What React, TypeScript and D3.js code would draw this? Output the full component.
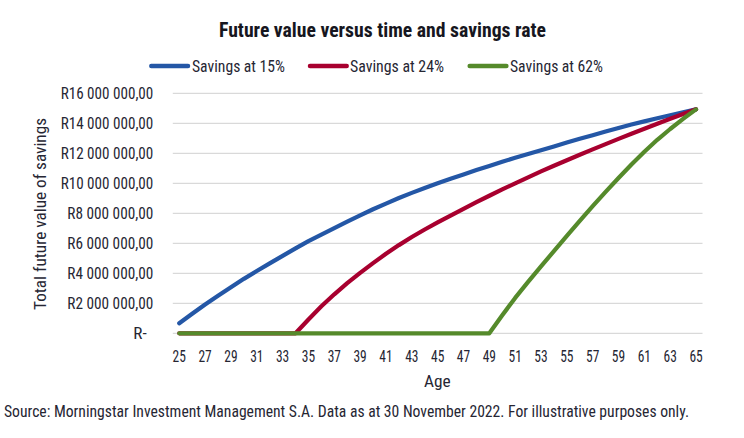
import React from 'react';
import * as d3 from 'd3';

// ages on the x axis (every year, labels every 2nd)
const ages = d3.range(25, 66);

// total future value of savings, R millions
const savings15 = [
  0.67, 1.3, 1.92, 2.5, 3.07, 3.63, 4.15, 4.66, 5.16, 5.66,
  6.15, 6.58, 7.01, 7.44, 7.86, 8.27, 8.65, 9.02, 9.36, 9.69,
  10.0, 10.3, 10.59, 10.88, 11.16, 11.44, 11.7, 11.95, 12.2, 12.46,
  12.72, 12.97, 13.21, 13.45, 13.69, 13.92, 14.13, 14.34, 14.54, 14.74,
  14.93,
];
const savings24 = [
  0, 0, 0, 0, 0, 0, 0, 0, 0, 0,
  0.92, 1.8, 2.6, 3.34, 4.03, 4.68, 5.3, 5.88, 6.42, 6.92,
  7.39, 7.85, 8.3, 8.74, 9.17, 9.59, 10.0, 10.4, 10.79, 11.17,
  11.54, 11.9, 12.26, 12.61, 12.96, 13.3, 13.64, 13.97, 14.3, 14.62,
  14.93,
];
const savings62 = [
  0, 0, 0, 0, 0, 0, 0, 0, 0, 0,
  0, 0, 0, 0, 0, 0, 0, 0, 0, 0,
  0, 0, 0, 0, 0, 1.2, 2.36, 3.43, 4.46, 5.48,
  6.5, 7.5, 8.48, 9.43, 10.35, 11.25, 12.1, 12.9, 13.62, 14.3,
  14.93,
];

const seriesNames = ['Savings at 15%', 'Savings at 24%', 'Savings at 62%'];
const seriesColors = ['#2457a6', '#a8002f', '#558a2b'];
const yTicks = [0, 2, 4, 6, 8, 10, 12, 14, 16];

const W = 744;
const H = 438;
const margin = { top: 93.3, right: 41.5, bottom: 104.7, left: 172.8 };
const FONT = '"Roboto Condensed", "Liberation Sans Narrow", "DejaVu Sans Condensed", Roboto, sans-serif';
const TEXT = '#262633';

const fmtRand = (m: number) =>
  m === 0 ? 'R-' : 'R' + d3.format(',')(m * 1e6).replace(/,/g, ' ') + ',00';

export default function App() {
  const x = d3.scalePoint<number>()
    .domain(ages)
    .range([margin.left, W - margin.right])
    .padding(0.5);
  const y = d3.scaleLinear().domain([0, 16]).range([H - margin.bottom, margin.top]);

  const series = [savings15, savings24, savings62];
  const line = d3.line<number>()
    .x((_, i) => x(ages[i]) as number)
    .y(d => y(d));

  const legendItems = [
    { x0: 149.3, tx: 192, w: 93 },
    { x0: 308, tx: 350, w: 94 },
    { x0: 467.7, tx: 510, w: 93 },
  ];

  return (
    <svg width={W} height={H} style={{ position: 'absolute', left: 0, top: 0, background: '#fff' }}
      fontFamily={FONT}>
      <text x={219} y={37.3} fontSize={19.5} fontWeight="bold" fill="#161620"
        textLength={327} lengthAdjust="spacingAndGlyphs">
        Future value versus time and savings rate
      </text>

      {seriesNames.map((name, i) => (
        <g key={name}>
          <line x1={legendItems[i].x0 + 2} x2={legendItems[i].x0 + 38.7} y1={66} y2={66}
            stroke={seriesColors[i]} strokeWidth={4.5} strokeLinecap="round" />
          <text x={legendItems[i].tx} y={72} fontSize={17} fill={TEXT}
            textLength={legendItems[i].w} lengthAdjust="spacingAndGlyphs">{name}</text>
        </g>
      ))}

      {yTicks.map(t => (
        <g key={t}>
          <line x1={margin.left} x2={W - margin.right} y1={y(t)} y2={y(t)}
            stroke="#d9d9d9" strokeWidth={1.2} />
          <text x={t === 0 ? 146.7 : 153.3} y={y(t)} dy="0.36em" textAnchor="end" fontSize={17} fill={TEXT}
            textLength={t === 0 ? 13.4 : (fmtRand(t).length * 92.6) / 14} lengthAdjust="spacingAndGlyphs">
            {fmtRand(t)}
          </text>
        </g>
      ))}

      {ages.filter(a => a % 2 === 1).map(a => (
        <text key={a} x={x(a)} y={355.5} dy="0.36em" textAnchor="middle" fontSize={17} fill={TEXT}
          textLength={13.3} lengthAdjust="spacingAndGlyphs">{a}</text>
      ))}

      <text x={437.3} y={386.5} textAnchor="middle" fontSize={17} fill={TEXT}
        textLength={26.7} lengthAdjust="spacingAndGlyphs">Age</text>

      <text transform={`translate(46,${(118 + 310) / 2}) rotate(-90)`} textAnchor="middle" fontSize={17} fill={TEXT}
        textLength={192} lengthAdjust="spacingAndGlyphs">Total future value of savings</text>

      {series.map((s, i) => (
        <path key={i} d={line(s) ?? ''} fill="none" stroke={seriesColors[i]} strokeWidth={4.2}
          strokeLinejoin="round" strokeLinecap="round" />
      ))}

      <text x={4} y={416.7} fontSize={16} fill={TEXT}
        textLength={685} lengthAdjust="spacingAndGlyphs">
        Source: Morningstar Investment Management S.A. Data as at 30 November 2022. For illustrative purposes only.
      </text>
    </svg>
  );
}
